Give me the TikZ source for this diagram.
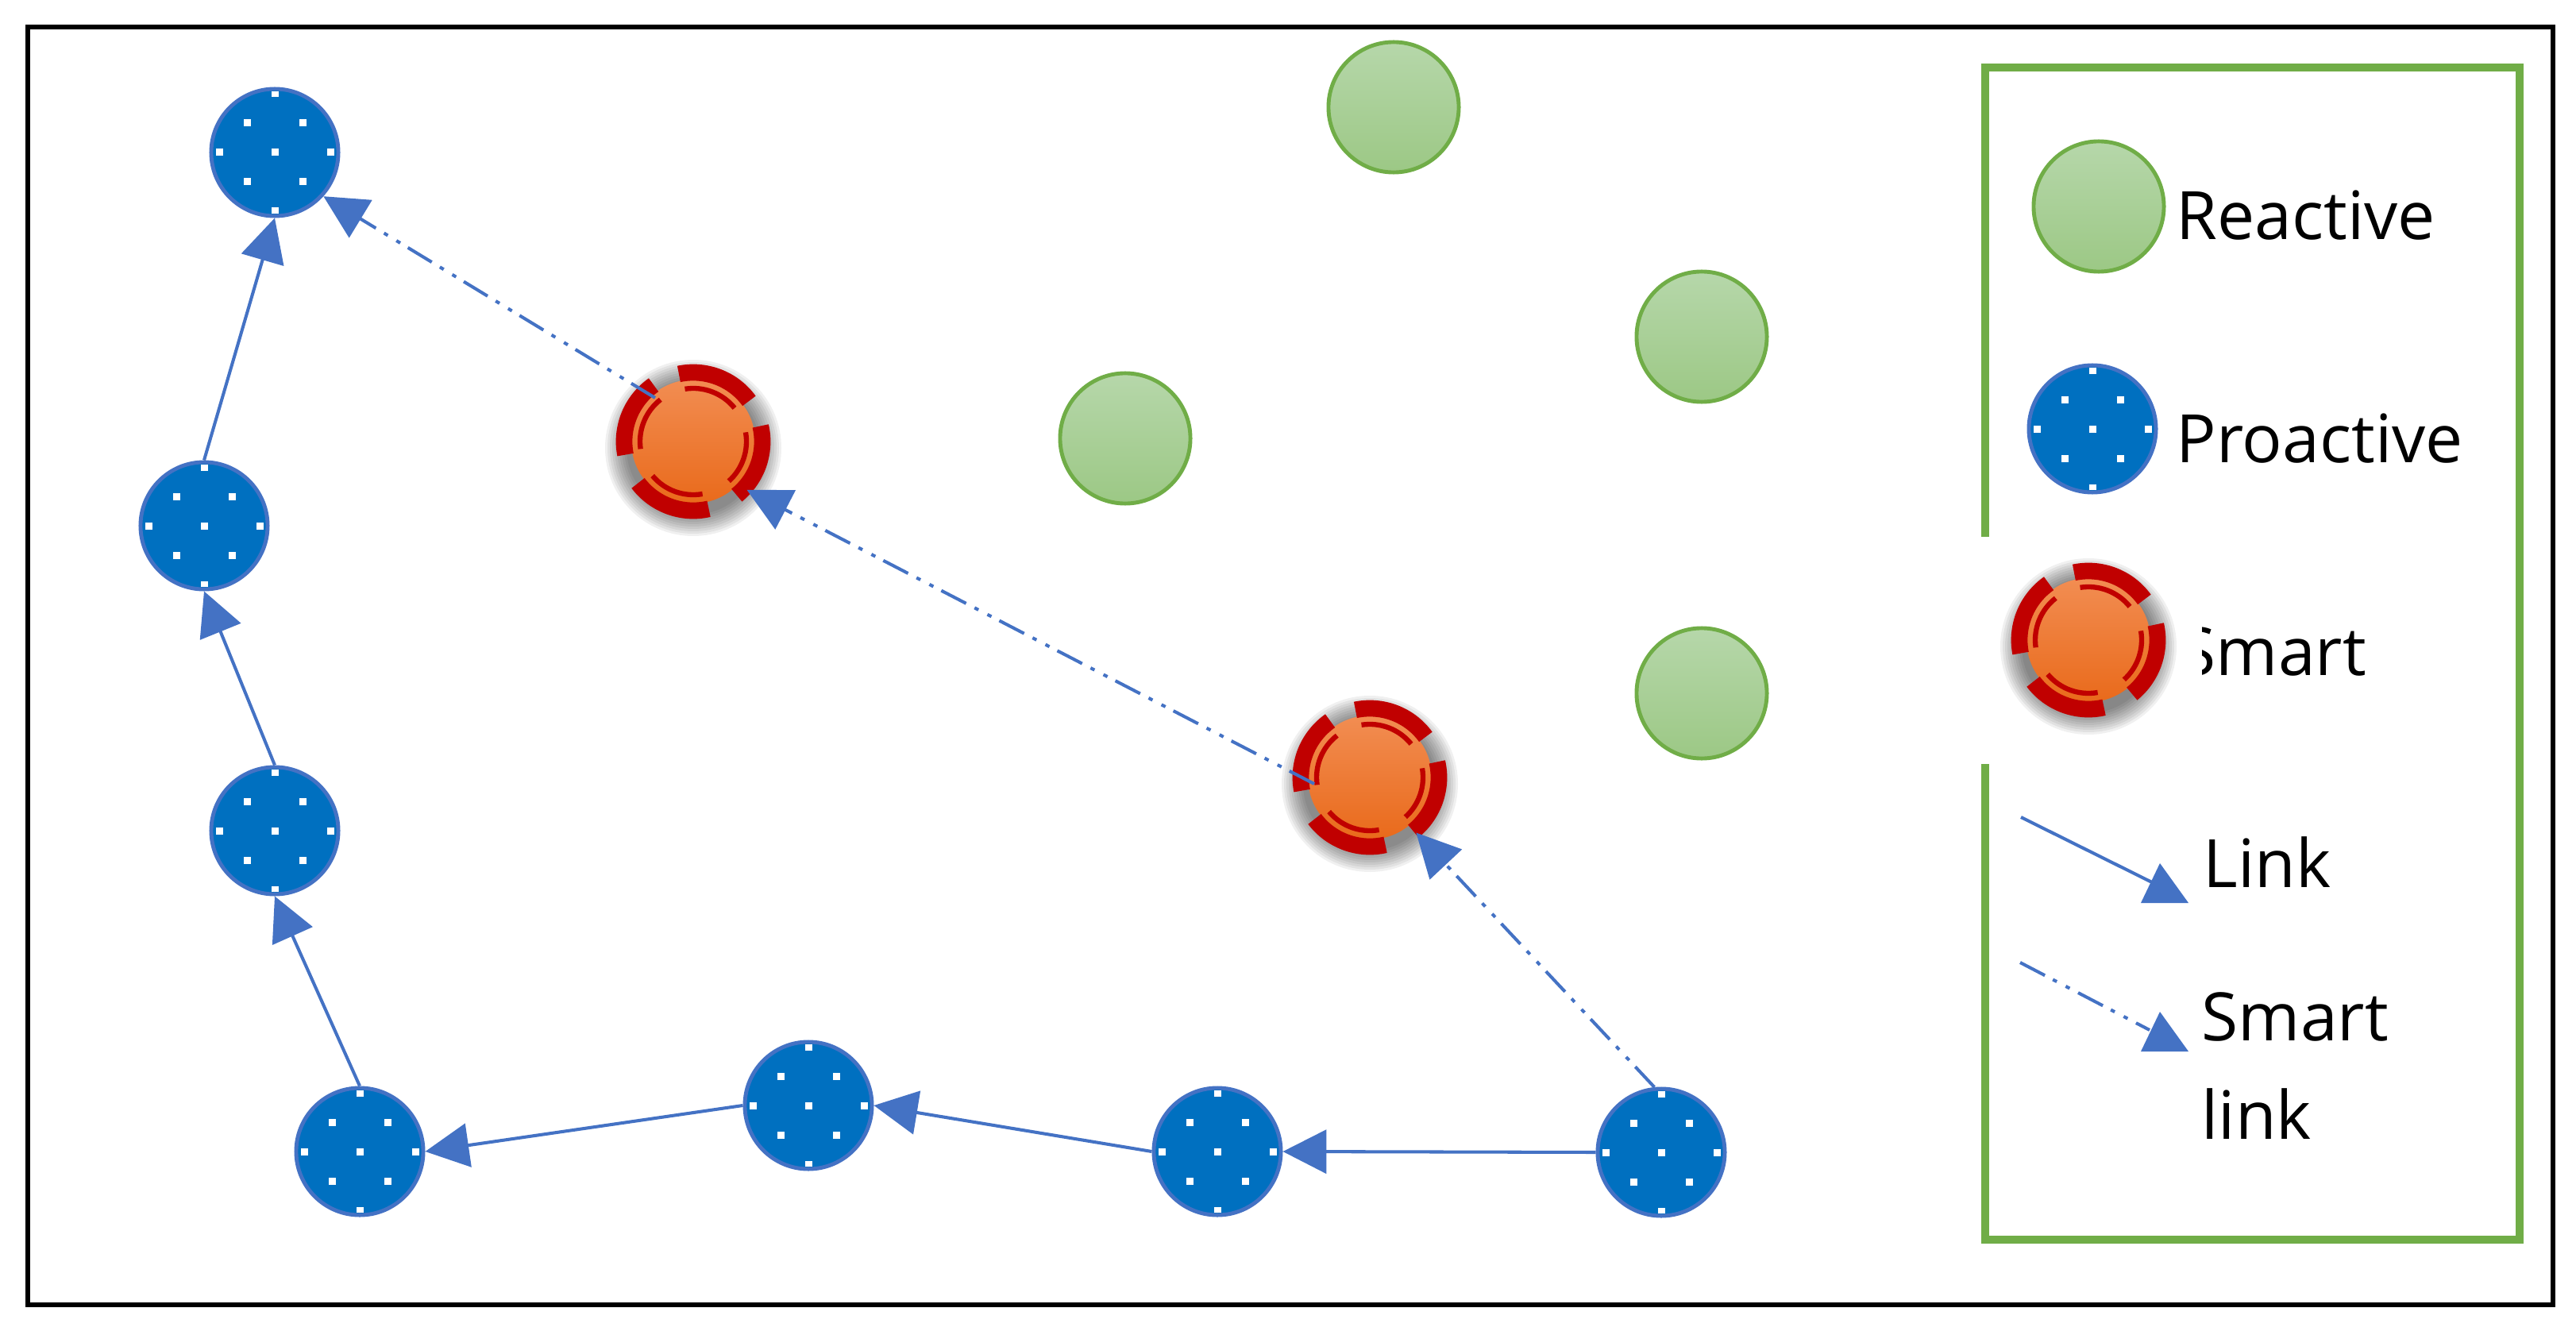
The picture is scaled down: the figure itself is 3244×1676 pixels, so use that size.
\documentclass[tikz,border=0pt]{standalone}
\usepackage{fontspec}
\setmainfont{Open Sans}
\usetikzlibrary{arrows.meta,calc}
\definecolor{blueFill}{HTML}{0070C0}
\definecolor{blueLine}{HTML}{4472C4}
\definecolor{greenLine}{HTML}{70AD47}
\definecolor{greenTop}{HTML}{B6D7AA}
\definecolor{greenBot}{HTML}{9CC885}
\definecolor{orTop}{HTML}{F28D52}
\definecolor{orBot}{HTML}{E96A1B}
\definecolor{ringRed}{HTML}{C00000}
\newcommand\pdots[1]{%
  \begin{scope}
    \clip (#1.center) circle (77);
    \foreach \i in {-2,...,2}{\foreach \j in {-2,...,2}{%
      \pgfmathtruncatemacro\dpar{mod(\i+\j+10,2)}%
      \ifnum\dpar=0
        \fill[white] ($(#1.center)+(\i*35-4.5,\j*37-4.5)$) rectangle +(9,9);
      \fi}}
  \end{scope}}
\newcommand\smartring[1]{%
  \foreach \r in {84,87,...,112}{\fill[black,opacity=0.06] ($(#1.center)+(0,8)$) circle (\r);}
  \shade[top color=orTop,bottom color=orBot] (#1.center) circle (78);
  \begin{scope}[shift={(#1.center)},y=0.01cm]
    \foreach \a/\b in {36/102,125/191,217/283,309/373}{%
      \draw[ringRed,line width=5.9pt] (\a:87) arc[start angle=\a,end angle=\b,radius=87];
      \draw[ringRed,line width=1.8pt] (\a+3:67) arc[start angle=\a+3,end angle=\b-3,radius=67];}
  \end{scope}}
\tikzset{
  proactive/.style={circle,minimum size=1.6cm,inner sep=0pt,fill=blueFill,draw=blueLine,line width=1.4pt},
  reactive/.style={circle,minimum size=1.64cm,inner sep=0pt,top color=greenTop,bottom color=greenBot,draw=greenLine,line width=1.4pt},
  smartn/.style={circle,minimum size=1.8cm,inner sep=0pt},
  link/.style={draw=blueLine,line width=1.15pt,-{Triangle[length=15.6pt,width=15.6pt]},blueLine},
  slink/.style={link,dash pattern=on 10pt off 3.2pt on 1.6pt off 3.6pt on 1.6pt off 3.4pt},
  plainlink/.style={draw=blueLine,line width=1.15pt},
  tipfill/.style={fill=blueLine},
  lbl/.style={anchor=base west,inner sep=0pt,font=\fontsize{23.9}{30}\selectfont}
}
\begin{document}
\begin{tikzpicture}[x=0.01cm,y=-0.01cm]
\useasboundingbox (0,0) rectangle (3244,1676);
% outer frame
\draw[black,line width=1.5pt] (35,34) rectangle (3215,1643);
% legend frame
\draw[greenLine,line width=2.6pt] (2500,85) rectangle (3173,1561);
% smart nodes
\node[smartn] (s1) at (873,556) {};
\node[smartn] (s2) at (1725,979) {};
\smartring{s1}
\smartring{s2}
% reactive nodes
\node[reactive] (g1) at (1755,135) {};
\node[reactive] (g2) at (1417,552) {};
\node[reactive] (g3) at (2143,424) {};
\node[reactive] (g4) at (2143,873) {};
% proactive nodes
\node[proactive] (b1) at (346,192) {};
\node[proactive] (b2) at (257,662) {};
\node[proactive] (b3) at (346,1046) {};
\node[proactive] (b4) at (453,1450) {};
\node[proactive] (b5) at (1018,1392) {};
\node[proactive] (b6) at (1533,1450) {};
\node[proactive] (b7) at (2092,1451) {};
\foreach \n in {b1,b2,b3,b4,b5,b6,b7}{\pdots{\n}}
% links
\draw[link] (b7.west) -- (b6.east);
\draw[link] (b6.west) -- (b5.east);
\draw[link] (b5.west) -- (b4.east);
\draw[link] (b4.north) -- (b3.south);
\draw[link] (b3.north) -- (b2.south);
\draw[link] (b2.north) -- (b1.south);
% smart links
\coordinate (s2in) at ($(s2.center)+(-70,8)$);
\coordinate (s1in) at ($(s1.center)+(-48,-55)$);
\draw[slink] (b7.96) -- (s2.-50);
\draw[slink] (s2in) -- (s1.-42);
\draw[slink] (s1in) -- (b1.-42);
% legend
\node[reactive] (lr) at (2643,260) {};
\node[proactive] (lp) at (2635,540) {};
\pdots{lp}
\node[lbl] (tr) at (2740,301) {Reactive};
\node[lbl] (tp) at (2740,582) {Proactive};
\node[lbl] (ts) at (2744,850) {Smart};
\fill[white] (2480,676) rectangle (2773,962);
\node[smartn] (ls) at (2630,806) {};
\smartring{ls}
\coordinate (l1a) at (2545,1029);
\coordinate (l1b) at (2710,1111);
\draw[plainlink] (l1a) -- (l1b);
\fill[tipfill] (2720,1087) -- (2696,1137) -- (2756,1137) -- cycle;
\node[lbl] (tl) at (2774,1117) {Link};
\coordinate (l2a) at (2544,1212);
\coordinate (l2b) at (2707,1297);
\draw[plainlink,dash pattern=on 10pt off 3.2pt on 1.6pt off 3.6pt on 1.6pt off 3.4pt] (l2a) -- (l2b);
\fill[tipfill] (2720,1274) -- (2696,1324) -- (2756,1324) -- cycle;
\node[lbl] (tsl1) at (2772,1310) {Smart};
\node[lbl] (tsl2) at (2772,1434) {link};
\end{tikzpicture}
\end{document}
